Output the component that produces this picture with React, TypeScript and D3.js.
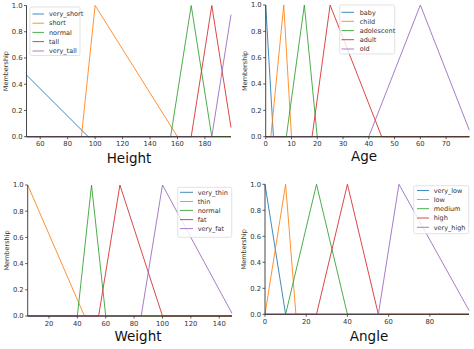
import React from "react";
import * as d3 from "d3";

const COLORS = ["#1f77b4", "#ff7f0e", "#2ca02c", "#d62728", "#9467bd"];

// Height
const heightNames = ["very_short", "short", "normal", "tall", "very_tall"];
const heightX = [
  [50, 95, 199],
  [50, 90, 100, 160, 199],
  [50, 155, 170, 185, 199],
  [50, 170, 185, 199],
  [50, 185, 199],
];
const heightY = [
  [0.47, 0, 0],
  [0, 0, 1, 0, 0],
  [0, 0, 1, 0, 0],
  [0, 0, 1, 0.07],
  [0, 0, 0.93],
];
const heightTicks = [60, 80, 100, 120, 140, 160, 180];

// Age
const ageNames = ["baby", "child", "adolescent", "adult", "old"];
const ageX = [
  [0, 3, 79],
  [0, 2, 7, 10, 79],
  [0, 8, 15, 20, 79],
  [0, 18, 25, 45, 79],
  [0, 40, 60, 79],
];
const ageY = [
  [1, 0, 0],
  [0, 0, 1, 0, 0],
  [0, 0, 1, 0, 0],
  [0, 0, 1, 0, 0],
  [0, 0, 1, 0.05],
];
const ageTicks = [0, 10, 20, 30, 40, 50, 60, 70];

// Weight
const weightNames = ["very_thin", "thin", "normal", "fat", "very_fat"];
const weightX = [
  [5, 149],
  [5, 45, 149],
  [5, 40, 50, 60, 149],
  [5, 55, 70, 100, 149],
  [5, 85, 100, 149],
];
const weightY = [
  [0, 0],
  [1, 0, 0],
  [0, 0, 1, 0, 0],
  [0, 0, 1, 0, 0],
  [0, 0, 1, 0.02],
];
const weightTicks = [20, 40, 60, 80, 100, 120, 140];

// Angle
const angleNames = ["very_low", "low", "medium", "high", "very_high"];
const angleX = [
  [0, 10, 99],
  [0, 10, 15, 99],
  [0, 10, 25, 40, 99],
  [0, 25, 40, 55, 99],
  [0, 55, 65, 99],
];
const angleY = [
  [1, 0, 0],
  [0, 1, 0, 0],
  [0, 0, 1, 0, 0],
  [0, 0, 1, 0, 0],
  [0, 0, 1, 0.03],
];
const angleTicks = [0, 20, 40, 60, 80];

const yTicks = [0, 0.2, 0.4, 0.6, 0.8, 1.0];

type PanelProps = {
  title: string;
  names: string[];
  xs: number[][];
  ys: number[][];
  xDomain: [number, number];
  xTicks: number[];
  left: number;
  right: number;
  top: number;
  bottom: number;
  titleX: number;
  titleY: number;
  ylabelX: number;
  legend: { x: number; y: number; w: number; h: number; lx1: number; lx2: number; tx: number; rows: number[] };
};

const FONT = "DejaVu Sans, sans-serif";

function Panel(p: PanelProps) {
  const x = d3.scaleLinear().domain(p.xDomain).range([p.left, p.right]);
  const y = d3.scaleLinear().domain([0, 1]).range([p.bottom, p.top]);
  const line = d3
    .line<[number, number]>()
    .x((d) => x(d[0]))
    .y((d) => y(d[1]));
  return (
    <g>
      {p.xs.map((xs, i) => {
        const pts = xs.map((v, j) => [v, p.ys[i][j]] as [number, number]);
        return (
          <path
            key={i}
            d={line(pts) || ""}
            fill="none"
            stroke={COLORS[i]}
            strokeWidth={1}
            strokeOpacity={0.85}
          />
        );
      })}
      {/* spines */}
      <line x1={p.left} x2={p.left} y1={p.top} y2={p.bottom} stroke="#333" strokeWidth={0.9} />
      <line x1={p.left} x2={p.right} y1={p.bottom} y2={p.bottom} stroke="#333" strokeWidth={0.9} />
      {yTicks.map((t) => (
        <g key={"y" + t}>
          <line x1={p.left - 2.5} x2={p.left} y1={y(t)} y2={y(t)} stroke="#333" strokeWidth={0.8} />
          <text x={p.left - 4} y={y(t)} dy="0.35em" textAnchor="end" fontSize={6.8} fill="#333" fontFamily={FONT}>
            {t.toFixed(1)}
          </text>
        </g>
      ))}
      {p.xTicks.map((t) => (
        <g key={"x" + t}>
          <line x1={x(t)} x2={x(t)} y1={p.bottom} y2={p.bottom + 2.5} stroke="#333" strokeWidth={0.8} />
          <text x={x(t)} y={p.bottom + 9.5} textAnchor="middle" fontSize={6.8} fill="#333" fontFamily={FONT}>
            {t}
          </text>
        </g>
      ))}
      <text
        transform={`translate(${p.ylabelX},${(p.top + p.bottom) / 2}) rotate(-90)`}
        textAnchor="middle"
        fontSize={6.5}
        fill="#333"
        fontFamily={FONT}
      >
        Membership
      </text>
      <text x={p.titleX} y={p.titleY} textAnchor="middle" fontSize={13.5} fill="#111" fontFamily={FONT}>
        {p.title}
      </text>
      <rect
        x={p.legend.x}
        y={p.legend.y}
        width={p.legend.w}
        height={p.legend.h}
        rx={1.5}
        fill="#fff"
        fillOpacity={0.8}
        stroke="#d6d6d6"
        strokeWidth={0.7}
      />
      {p.names.map((n, i) => (
        <g key={n}>
          <line
            x1={p.legend.lx1}
            x2={p.legend.lx2}
            y1={p.legend.rows[i]}
            y2={p.legend.rows[i]}
            stroke={COLORS[i]}
            strokeWidth={1}
            strokeOpacity={0.85}
          />
          <text x={p.legend.tx} y={p.legend.rows[i]} dy="0.35em" fontSize={6.5} fill="#333" fontFamily={FONT}>
            {n}
          </text>
        </g>
      ))}
    </g>
  );
}

export default function App() {
  return (
    <div style={{ position: "absolute", left: 0, top: 0 }}>
      <svg width={474} height={349} style={{ display: "block", background: "#fff" }}>
        <Panel
          title="Height"
          names={heightNames}
          xs={heightX}
          ys={heightY}
          xDomain={[50, 199]}
          xTicks={heightTicks}
          left={26.5}
          right={231}
          top={5.5}
          bottom={136.7}
          titleX={129}
          titleY={163}
          ylabelX={8}
          legend={{ x: 30, y: 7, w: 50, h: 48.5, lx1: 32.5, lx2: 44, tx: 49, rows: [14, 23.2, 32.4, 41.6, 51] }}
        />
        <Panel
          title="Age"
          names={ageNames}
          xs={ageX}
          ys={ageY}
          xDomain={[0, 79]}
          xTicks={ageTicks}
          left={265.7}
          right={469.3}
          top={5}
          bottom={136.7}
          titleX={364}
          titleY={161}
          ylabelX={247}
          legend={{ x: 339.7, y: 5, w: 55, h: 49, lx1: 341.5, lx2: 354, tx: 359.7, rows: [12.3, 21.3, 30.6, 39.7, 49] }}
        />
        <Panel
          title="Weight"
          names={weightNames}
          xs={weightX}
          ys={weightY}
          xDomain={[5, 149]}
          xTicks={weightTicks}
          left={27.7}
          right={232}
          top={185}
          bottom={316}
          titleX={138}
          titleY={341}
          ylabelX={9}
          legend={{ x: 177.7, y: 187.3, w: 54, h: 50, lx1: 180, lx2: 193, tx: 197.7, rows: [192.3, 201.5, 210.4, 219.6, 228.6] }}
        />
        <Panel
          title="Angle"
          names={angleNames}
          xs={angleX}
          ys={angleY}
          xDomain={[0, 99]}
          xTicks={angleTicks}
          left={265}
          right={469}
          top={184.3}
          bottom={314.3}
          titleX={369}
          titleY={341}
          ylabelX={246}
          legend={{ x: 413.7, y: 185.7, w: 55, h: 48, lx1: 417, lx2: 429, tx: 433.7, rows: [190.5, 199.5, 208.7, 218, 227.3] }}
        />
      </svg>
    </div>
  );
}
